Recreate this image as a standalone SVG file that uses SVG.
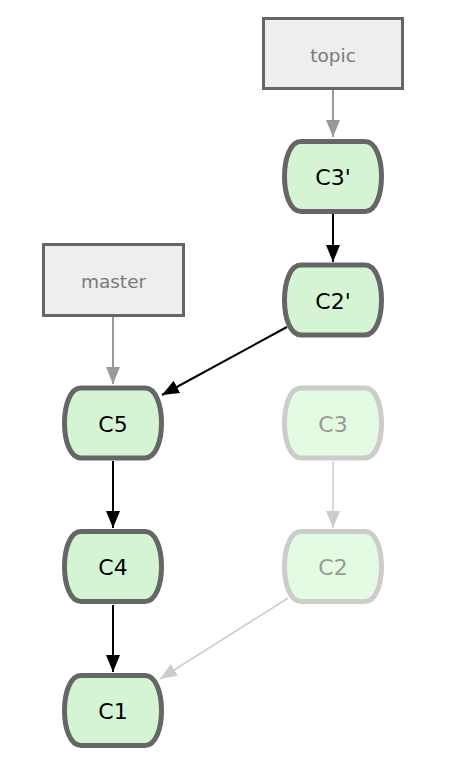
<svg xmlns="http://www.w3.org/2000/svg" xmlns:xlink="http://www.w3.org/1999/xlink" width="474" height="766" viewBox="0 0 474 766">
<style>
.box{fill:#eeeeee;stroke:#666666;stroke-width:3}
.boxtxt{font-family:"DejaVu Sans",sans-serif;font-size:18.5px;fill:#7a7a7a;text-anchor:middle}
.commit{fill:#d4f4d4;stroke:#666666;stroke-width:5}
.faded{fill:#e2fbe2;stroke:#cccccc;stroke-width:5}
.ctxt{font-family:"DejaVu Sans",sans-serif;font-size:22px;fill:#000000;text-anchor:middle}
.ftxt{font-family:"DejaVu Sans",sans-serif;font-size:22px;fill:#999999;text-anchor:middle}
.ref{stroke:#999999;stroke-width:2;fill:none;marker-end:url(#ag)}
.par{stroke:#000000;stroke-width:2;fill:none;marker-end:url(#ab)}
.old{stroke:#cccccc;stroke-width:1.5;fill:none;marker-end:url(#al)}
</style>
<defs>
<path id="shape" d="M -32,-35 H 32 C 54,-35 54,35 32,35 H -32 C -54,35 -54,-35 -32,-35 Z"/>
<marker id="ag" markerUnits="userSpaceOnUse" markerWidth="17" markerHeight="14" refX="17" refY="7" orient="auto"><path d="M0,0 L17,7 L0,14 Z" fill="#999999"/></marker>
<marker id="ab" markerUnits="userSpaceOnUse" markerWidth="17" markerHeight="14" refX="17" refY="7" orient="auto"><path d="M0,0 L17,7 L0,14 Z" fill="#000000"/></marker>
<marker id="al" markerUnits="userSpaceOnUse" markerWidth="17" markerHeight="14" refX="17" refY="7" orient="auto"><path d="M0,0 L17,7 L0,14 Z" fill="#cccccc"/></marker>
</defs>
<rect width="474" height="766" fill="#ffffff"/>
<g id="connectors">
<line class="ref" x1="333" y1="90" x2="333" y2="137"/>
<line class="ref" x1="113" y1="317" x2="113" y2="384"/>
<line class="par" x1="333" y1="214" x2="333" y2="262"/>
<line class="par" x1="287" y1="327" x2="162" y2="395"/>
<line class="par" x1="113" y1="461" x2="113" y2="528"/>
<line class="par" x1="113" y1="605" x2="113" y2="672"/>
<line class="old" x1="333" y1="461" x2="333" y2="528"/>
<line class="old" x1="288" y1="598" x2="160" y2="679"/>
</g>
<g id="topic">
<rect class="box" x="263.5" y="18.5" width="139" height="70"/>
<text class="boxtxt" x="333" y="62">topic</text>
</g>
<g id="master">
<rect class="box" x="43.5" y="244.5" width="140" height="71"/>
<text class="boxtxt" x="113.5" y="288">master</text>
</g>
<g id="C3p">
<use xlink:href="#shape" class="commit" transform="translate(333,176.5)"/>
<text class="ctxt" x="333" y="185">C3'</text>
</g>
<g id="C2p">
<use xlink:href="#shape" class="commit" transform="translate(333,300)"/>
<text class="ctxt" x="333" y="308.5">C2'</text>
</g>
<g id="C5">
<use xlink:href="#shape" class="commit" transform="translate(113,423)"/>
<text class="ctxt" x="113" y="431.5">C5</text>
</g>
<g id="C3">
<use xlink:href="#shape" class="faded" transform="translate(333,423)"/>
<text class="ftxt" x="333" y="431.5">C3</text>
</g>
<g id="C4">
<use xlink:href="#shape" class="commit" transform="translate(113,566.5)"/>
<text class="ctxt" x="113" y="575">C4</text>
</g>
<g id="C2">
<use xlink:href="#shape" class="faded" transform="translate(333,566.5)"/>
<text class="ftxt" x="333" y="575">C2</text>
</g>
<g id="C1">
<use xlink:href="#shape" class="commit" transform="translate(113,710.5)"/>
<text class="ctxt" x="113" y="719">C1</text>
</g>
</svg>
